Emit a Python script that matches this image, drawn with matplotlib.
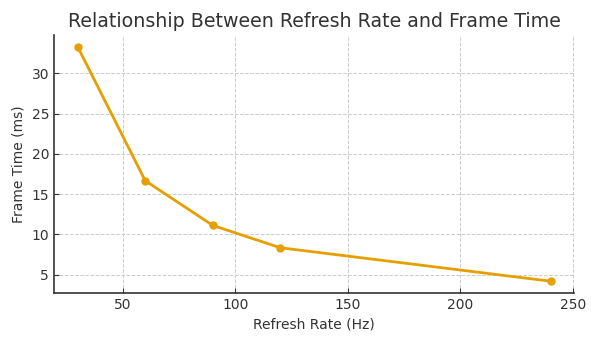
import matplotlib.pyplot as plt

# dados
refresh_rate = [30, 60, 90, 120, 240]
frame_time = [33.33, 16.67, 11.11, 8.33, 4.17]

text_color = '#333333'

fig = plt.figure(figsize=(6, 3.43), dpi=100)
ax = fig.add_axes([0.09, 0.146, 0.867, 0.752])

ax.plot(refresh_rate, frame_time, color='#E69F00', marker='o', linewidth=2, markersize=5)

ax.set_title('Relationship Between Refresh Rate and Frame Time', fontsize=13.7, color=text_color)
ax.set_xlabel('Refresh Rate (Hz)', fontsize=10, color=text_color)
ax.set_ylabel('Frame Time (ms)', fontsize=10, color=text_color)
ax.set_xticks([50, 100, 150, 200, 250])
ax.set_yticks([5, 10, 15, 20, 25, 30])
ax.tick_params(colors=text_color, labelsize=10, direction='in')
ax.grid(True, linestyle='--', color='#cccccc', linewidth=0.7)
ax.set_axisbelow(True)

for s in ['top', 'right']:
    ax.spines[s].set_visible(False)
for s in ['left', 'bottom']:
    ax.spines[s].set_color(text_color)
    ax.spines[s].set_linewidth(1.2)

fig.savefig('out.png', dpi=100)
